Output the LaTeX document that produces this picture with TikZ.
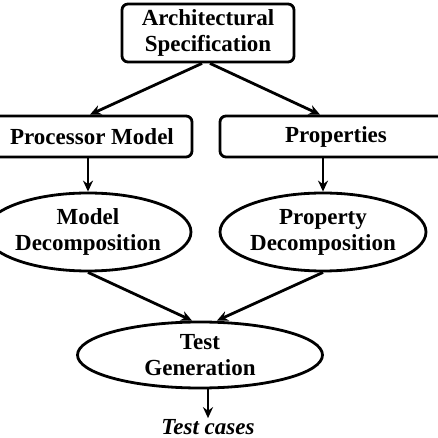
\documentclass[tikz,border=0pt]{standalone}
\usepackage{fontspec}
\setmainfont{Liberation Serif}
\usetikzlibrary{shapes.geometric,arrows.meta}

\begin{document}
\begin{tikzpicture}[
  x=1pt,
  y=1pt,
  every node/.style={font=\fontsize{23}{26}\selectfont\bfseries, align=center},
  >={Stealth[length=11pt,width=10pt]},
  stagebox/.style={draw, line width=2.8pt, rounded corners=6pt, inner sep=0pt},
  stageoval/.style={draw, ellipse, line width=2.8pt, inner sep=0pt},
  flow/.style={->, line width=2.8pt}
]
  \useasboundingbox (0,0) rectangle (438,438);

  \node[stagebox, minimum width=172, minimum height=58] (spec) at (208,405) {Architectural\\Specification};
  \node[stagebox, minimum width=200, minimum height=41] (proc) at (92,301.5) {Processor Model};
  \node[stagebox, minimum width=232, minimum height=41] (props) at (336,301.5) {Properties};

  \node[stageoval, minimum width=198, minimum height=78] (mdec) at (88,206) {Model\\Decomposition};
  \node[stageoval, minimum width=204, minimum height=78] (pdec) at (323,206) {Property\\Decomposition};
  \node[stageoval, minimum width=245, minimum height=66] (tgen) at (200,83) {Test\\Generation};

  \node[font=\fontsize{23}{26}\selectfont\bfseries\itshape, inner sep=1pt] (cases) at (208,11) {Test cases};

  \draw[flow] ([xshift=-6pt]spec.south) -- ([xshift=-2pt]proc.north);
  \draw[flow] ([xshift=2pt]spec.south) -- ([xshift=-16pt]props.north);
  \draw[flow] (mdec.north |- proc.south) -- (mdec.north);
  \draw[flow] (pdec.north |- props.south) -- (pdec.north);
  \draw[flow] (mdec.south) -- ([xshift=-8pt]tgen.north);
  \draw[flow] (pdec.south) -- ([xshift=17pt]tgen.north);
  \draw[flow] (cases.north |- tgen.south) -- (cases.north);
\end{tikzpicture}
\end{document}
